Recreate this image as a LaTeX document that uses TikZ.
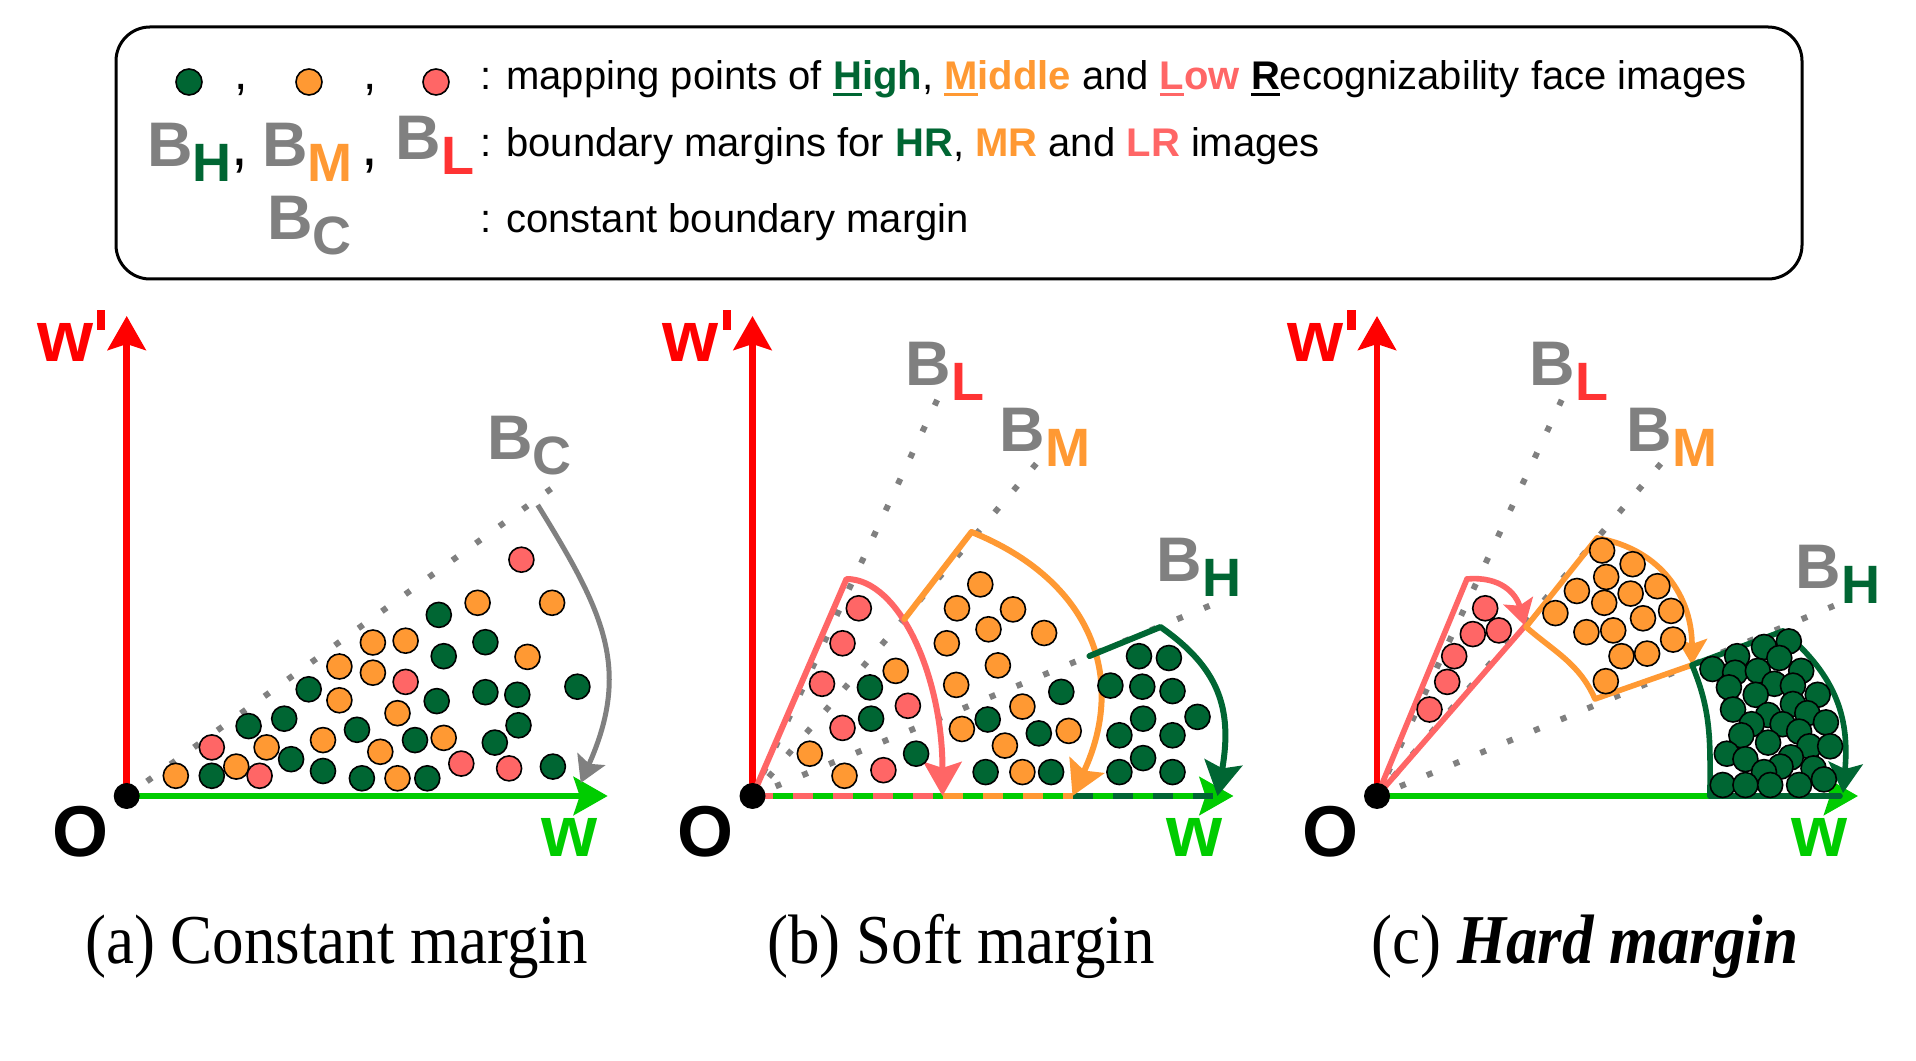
\documentclass[tikz,border=0pt]{standalone}
\usepackage{fontspec}
\setmainfont{Liberation Sans}
\newfontfamily\serifcap{Liberation Serif}
\usetikzlibrary{arrows.meta}
\definecolor{dgreen}{RGB}{0,102,51}
\definecolor{morange}{RGB}{255,153,51}
\definecolor{lpink}{RGB}{255,102,102}
\definecolor{lred}{RGB}{255,51,51}
\definecolor{bgray}{RGB}{128,128,128}
\definecolor{axgreen}{RGB}{0,204,0}
\definecolor{axred}{RGB}{255,0,0}
\newcommand\Blab[2]{{\bfseries\fontsize{31.5}{31.5}\selectfont\color{bgray}B}{\raisebox{-7.5pt}{\bfseries\fontsize{27}{27}\selectfont\color{#1}#2}}}
\newcommand\wprime{w\kern0.05em\rule[0.45em]{0.12em}{0.27em}}
\newcommand\myul[1]{\setbox0\hbox{#1}\rlap{\rule[-0.15em]{\wd0}{0.07em}}\box0}
\newcommand\drawaxes{%
  \draw[ax, axred, bigtip] (0,0) -- (0,480);
  \draw[ax, axgreen, bigtip] (0,0) -- (481,0);
}
\tikzset{
  ax/.style={line width=3.25pt},
  bigtip/.style={-{Stealth[length=17pt,width=19pt,inset=3pt]}},
  midtip/.style={-{Stealth[length=15pt,width=17pt,inset=3pt]}},
  smalltip/.style={-{Stealth[length=13pt,width=15pt,inset=2.5pt]}},
  axlab/.style={font=\bfseries\fontsize{36}{36}\selectfont, inner sep=0, anchor=base west},
  blab/.style={inner sep=0, anchor=base west},
  dotline/.style={bgray, line width=3pt, dash pattern=on 3pt off 11.5pt},
  region/.style={line width=3pt, line join=round, line cap=round},
  gdot/.style={draw=black, line width=0.8pt, fill=dgreen},
  odot/.style={draw=black, line width=0.8pt, fill=morange},
  pdot/.style={draw=black, line width=0.8pt, fill=lpink},
  legtext/.style={inner sep=0, anchor=base west, font=\fontsize{20}{24}\selectfont},
  captext/.style={inner sep=0, anchor=base, font=\serifcap\fontsize{35}{35}\selectfont},
}
\begin{document}
\begin{tikzpicture}[x=0.5pt,y=0.5pt]
\fill[white] (0,0) rectangle (1916,1060);
\useasboundingbox (0,0) rectangle (1916,1060);

% ---------------- legend ----------------
\draw[line width=1.5pt, rounded corners=17pt] (116,1033) rectangle (1802,781);
\draw[gdot] (189,978) circle[radius=13];
\draw[odot] (309,978) circle[radius=13];
\draw[pdot] (436,978) circle[radius=13];
\node[legtext, font=\fontsize{24}{24}\selectfont] (c1) at (234,970) {,};
\node[legtext, font=\fontsize{24}{24}\selectfont] (c2) at (363,970) {,};
\node[legtext] (row1) at (480,970) {: mapping points of \textcolor{dgreen}{\bfseries\myul{H}igh}, \textcolor{morange}{\bfseries\myul{M}iddle} and \textcolor{lpink}{\bfseries\myul{L}ow} \textbf{\myul{R}}ecognizability face images};
\node[blab] (lbh) at (147,893) {\Blab{dgreen}{H}};
\node[blab, font=\fontsize{30}{30}\selectfont] (c3) at (231.5,894) {,};
\node[blab] (lbm) at (262,893) {\Blab{morange}{M}};
\node[blab, font=\fontsize{30}{30}\selectfont] (c4) at (361.5,894) {,};
\node[blab] (lbl) at (395.4,900) {\Blab{lred}{L}};
\node[legtext] (row2) at (480,903) {: boundary margins for \textcolor{dgreen}{\bfseries HR}, \textcolor{morange}{\bfseries MR} and \textcolor{lpink}{\bfseries LR} images};
\node[blab] (lbc) at (267,820) {\Blab{bgray}{C}};
\node[legtext] (row3) at (480,827) {: constant boundary margin};

% ---------------- captions ----------------
\node[captext] (capa) at (336.5,97) {\scalebox{0.9}[1]{(a) Constant margin}};
\node[captext] (capb) at (961,97) {\scalebox{0.9}[1]{(b) Soft margin}};
\node[captext] (capc) at (1585,97) {\scalebox{0.9}[1]{(c) \textbf{\textit{Hard margin}}}};

% ---------------- panel (a) ----------------
\begin{scope}[shift={(126.7,264)}]
  \draw[dotline] (35.9:25) -- (35.9:530);
  \drawaxes
  \draw[bgray, line width=2.5pt, smalltip] (411,291) .. controls (477,184) and (505,128) .. (454,13);
  \foreach \x/\y in {49.1/20.2,109.6/29.4,139.9/48.6,196.3/55.9,212.7/129.5,212.7/95.7,246.2/153.5,246.2/123.3,278.9/155.3,270.8/82.8,253.6/44.2,270.8/17.7,317.0/58.1,350.9/193.2,400.8/139.1,425.4/193.2}
    \draw[odot] (\x,\y) circle[radius=12.5];
  \foreach \x/\y in {85.1/20.2,121.9/69.9,157.5/77.3,164.4/36.8,182.0/106.7,196.3/25.0,230.3/66.2,235.2/17.7,288.3/55.9,300.6/17.7,310.0/94.9,312.1/181.1,317.0/139.8,358.7/153.8,358.7/103.8,390.6/101.2,391.8/70.7,368.1/53.4,426.2/29.4,450.7/109.3}
    \draw[gdot] (\x,\y) circle[radius=12.5];
  \foreach \x/\y in {85.1/48.6,132.9/20.2,278.9/114.1,334.6/32.4,382.4/27.6,394.7/236.3}
    \draw[pdot] (\x,\y) circle[radius=12.5];
  \fill (0,0) circle[radius=13];
  \node[axlab, axred] (wpa) at (-90,434) {\wprime};
  \node[axlab] (oa) at (-75,-61) {O};
  \node[axlab, axgreen] (wa) at (414,-61) {w};
  \node[blab] (bca) at (360,336) {\Blab{bgray}{C}};
\end{scope}

% ---------------- panel (b) ----------------
\begin{scope}[shift={(752.5,264)}]
  \draw[dotline] (65:25) -- (65:442);
  \draw[dotline] (49.5:25) -- (49.5:440);
  \draw[dotline] (22.6:25) -- (22.6:500);
  \drawaxes
  \draw[ax, lpink, dash pattern=on 10pt off 10pt] (0,0) -- (190,0);
  \draw[ax, morange, dash pattern=on 10pt off 10pt] (190,0) -- (320,0);
  \draw[ax, dgreen, dash pattern=on 10pt off 10pt] (320,0) -- (463,0);
  \draw[region, lpink, bigtip] (0,0) -- (94,217) arc[start angle=90, end angle=0, x radius=96, y radius=217];
  \draw[region, morange, bigtip] (152,177) -- (219,264) .. controls (339.5,215.3) and (374.9,117.8) .. (320,0);
  \draw[region, dgreen, bigtip] (337,140) -- (408,169) .. controls (465.3,128.9) and (480.6,88.6) .. (465,0);
  \foreach \x/\y in {106.3/187.7,90.0/152.7,69.5/112.2,155.4/90.2,90.0/68.1,130.9/25.8}
    \draw[pdot] (\x,\y) circle[radius=12.5];
  \foreach \x/\y in {143.2/125.1,57.3/42.3,92.0/20.2,227.8/211.6,204.5/187.7,260.5/186.6,236.0/166.7,194.3/152.7,291.6/163.0,245.4/130.6,203.7/111.1,269.9/89.4,209.4/67.0,252.4/50.4,316.2/65.1,269.9/23.9}
    \draw[odot] (\x,\y) circle[radius=12.5];
  \foreach \x/\y in {117.4/108.6,118.6/77.3,163.6/42.3,308.8/104.1,235.2/76.5,286.3/62.6,233.1/23.9,298.6/23.9,386.5/139.8,416.4/138.0,357.9/110.4,389.8/109.3,420.0/104.9,445.0/79.1,390.6/77.3,366.9/60.7,420.0/60.7,390.6/37.9,366.9/23.9,420.0/23.9}
    \draw[gdot] (\x,\y) circle[radius=12.5];
  \fill (0,0) circle[radius=13];
  \node[axlab, axred] (wpb) at (-90,434) {\wprime};
  \node[axlab] (ob) at (-75,-61) {O};
  \node[axlab, axgreen] (wb) at (414,-61) {w};
  \node[blab] (blb) at (153,410) {\Blab{lred}{L}};
  \node[blab] (bmb) at (247,344) {\Blab{morange}{M}};
  \node[blab] (bhb) at (404,214) {\Blab{dgreen}{H}};
\end{scope}

% ---------------- panel (c) ----------------
\begin{scope}[shift={(1377,264)}]
  \draw[dotline] (65:25) -- (65:442);
  \draw[dotline] (49.5:25) -- (49.5:440);
  \draw[dotline] (22.6:25) -- (22.6:500);
  \drawaxes
  \draw[region, dgreen, line width=2.8pt] (333,0) -- (463,0);
  % pink wedge
  \draw[region, lpink, line width=2.8pt] (148,170) -- (0,0) -- (90,217);
  \draw[region, lpink, line width=2.8pt, smalltip] (90,217) .. controls (123.5,220) and (139.3,202.4) .. (148,170);
  % orange sector
  \draw[region, morange, line width=2.8pt] (315,131) -- (218,97) to[out=114,in=-41] (149,169) -- (220,258);
  \draw[region, morange, line width=2.8pt, smalltip] (220,258) .. controls (285.6,246.4) and (315,197.6) .. (315,131);
  % green sector
  \draw[region, dgreen, line width=2.8pt] (406,165) -- (315,131) to[out=-67,in=90] (333,0);
  \draw[region, dgreen, line width=2.8pt, midtip] (406,165) .. controls (461.6,118.3) and (472.3,75.3) .. (466,3);
  \foreach \x/\y in {108.2/187.7,95.8/161.9,121.8/165.6,77.2/139.8,70.2/114.1,52.5/86.5}
    \draw[pdot] (\x,\y) circle[radius=12.5];
  \foreach \x/\y in {225.1/245.5,255.6/231.8,229.2/219.0,199.9/205.0,253.6/202.4,280.4/209.8,227.2/193.2,178.4/182.9,266.0/177.7,294.1/185.1,209.4/163.8,236.2/165.6,296.1/156.4,244.5/139.8,270.1/142.4,228.8/114.8}
    \draw[odot] (\x,\y) circle[radius=12.5];
  \foreach \x/\y in {387.0/149.0,411.8/154.6,360.1/139.8,402.3/138.0,335.4/127.0,358.1/123.3,380.8/125.1,424.2/125.1,351.9/108.6,397.3/112.2,415.9/110.4,378.7/101.2,440.7/101.2,356.0/86.5,415.9/92.0,391.1/81.0,430.3/82.8,448.9/73.6,374.6/71.8,405.6/71.8,364.3/60.7,422.1/64.4,391.1/53.4,432.4/49.7,453.1/49.7,349.8/42.3,368.4/36.8,413.8/38.6,403.5/29.4,436.5/27.6,387.0/23.9,446.9/16.6,345.7/11.0,368.4/11.0,393.2/11.0,422.1/11.0}
    \draw[gdot] (\x,\y) circle[radius=12.5];
  \fill (0,0) circle[radius=13];
  \node[axlab, axred] (wpc) at (-90,434) {\wprime};
  \node[axlab] (oc) at (-75,-61) {O};
  \node[axlab, axgreen] (wc) at (414,-61) {w};
  \node[blab] (blc) at (152.5,410) {\Blab{lred}{L}};
  \node[blab] (bmc) at (249.5,344) {\Blab{morange}{M}};
  \node[blab] (bhc) at (418.5,207) {\Blab{dgreen}{H}};
\end{scope}
\end{tikzpicture}
\end{document}
